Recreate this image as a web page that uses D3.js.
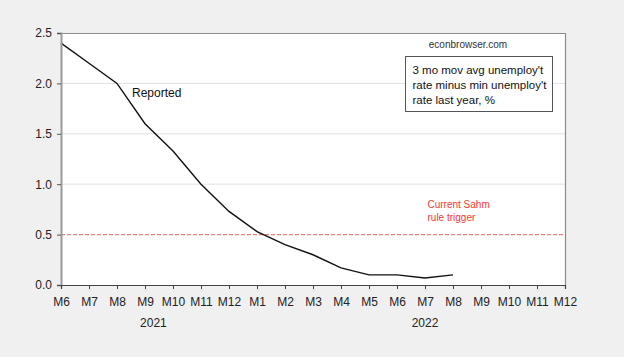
<!DOCTYPE html>
<html><head><meta charset="utf-8">
<script src="https://cdn.jsdelivr.net/npm/d3@7"></script>
<style>
body{margin:0;background:#f0f0f0;}
svg{display:block;font-family:"Liberation Sans",Arial,sans-serif;}
</style></head>
<body>
<svg id="c" width="624" height="357"></svg>
<script>
// Data
const monthLabels = ["M6","M7","M8","M9","M10","M11","M12","M1","M2","M3","M4","M5","M6","M7","M8","M9","M10","M11","M12"];
const yearLabels = [{year:"2021", pos:3.3},{year:"2022", pos:13}];
const reported = [2.4,2.2,2.0,1.6,1.33,1.0,0.73,0.53,0.4,0.3,0.17,0.1,0.1,0.07,0.1];
const trigger = 0.5;
const yTicks = [0,0.5,1.0,1.5,2.0,2.5];

const svg = d3.select("#c");
const L=61,R=565,T=33,B=285;
const x = d3.scaleLinear().domain([0, monthLabels.length-1]).range([L,R]);
const y = d3.scaleLinear().domain([0,2.5]).range([B,T]);

svg.append("rect").attr("x",L).attr("y",T).attr("width",R-L).attr("height",B-T).attr("fill","#fff");

// gridlines
svg.append("g").selectAll("line").data(yTicks.filter(d=>d>0 && d<2.5 && d!==trigger)).join("line")
  .attr("x1",L).attr("x2",R).attr("y1",d=>y(d)).attr("y2",d=>y(d))
  .attr("stroke","#e2e2e2").attr("stroke-width",1);

// border top/right
svg.append("path").attr("d",`M${L},${T+0.5}H${R+0.5}V${B}`).attr("fill","none").attr("stroke","#8c8c8c").attr("stroke-width",1.2);

// trigger line
svg.append("line").attr("x1",L).attr("x2",R).attr("y1",y(trigger)).attr("y2",y(trigger))
  .attr("stroke","#ee7f7f").attr("stroke-width",1.2).attr("stroke-dasharray","4,2");

// series
svg.append("path").datum(reported)
  .attr("d", d3.line().x((d,i)=>x(i)).y(d=>y(d)))
  .attr("fill","none").attr("stroke","#111").attr("stroke-width",1.4);

// y axis
const ya = svg.append("g").attr("transform",`translate(${L},0)`)
  .call(d3.axisLeft(y).tickValues(yTicks).tickFormat(d3.format(".1f")).tickSize(4).tickPadding(5));
ya.select(".domain").attr("stroke","#9a9a9a").attr("stroke-width",2);
ya.selectAll(".tick line").attr("stroke","#555");
ya.selectAll("text").attr("font-size",12).attr("fill","#222").attr("font-family","Liberation Sans, Arial, sans-serif");

// x axis
const xa = svg.append("g").attr("transform",`translate(0,${B})`)
  .call(d3.axisBottom(x).tickValues(d3.range(monthLabels.length)).tickFormat(i=>monthLabels[i]).tickSize(4).tickPadding(8));
xa.select(".domain").attr("stroke","#444").attr("stroke-width",1.2);
xa.selectAll(".tick line").attr("stroke","#444");
xa.selectAll("text").attr("font-size",12).attr("fill","#222").attr("font-family","Liberation Sans, Arial, sans-serif");

svg.append("g").selectAll("text").data(yearLabels).join("text")
  .attr("x",d=>x(d.pos)).attr("y",327).attr("text-anchor","middle")
  .attr("font-size",12).attr("fill","#222").text(d=>d.year);

// annotations
svg.append("text").attr("x",132).attr("y",97).attr("font-size",12).attr("fill","#111").text("Reported");
svg.append("text").attr("x",468).attr("y",48).attr("text-anchor","middle").attr("font-size",10).attr("fill","#333").text("econbrowser.com");
svg.append("rect").attr("x",405.5).attr("y",56.5).attr("width",147).attr("height",55).attr("fill","#fff").attr("stroke","#555").attr("stroke-width",1);
["3 mo mov avg unemploy't","rate minus min unemploy't","rate last year, %"].forEach((t,i)=>{
  svg.append("text").attr("x",412.5).attr("y",73.5+i*15).attr("font-size",11.5).attr("fill","#111").text(t);
});
svg.append("text").attr("x",427.5).attr("y",208).attr("font-size",10).attr("fill","#f03a3a").text("Current Sahm");
svg.append("text").attr("x",427.5).attr("y",221).attr("font-size",10).attr("fill","#f03a3a").text("rule trigger");
</script>
</body></html>
